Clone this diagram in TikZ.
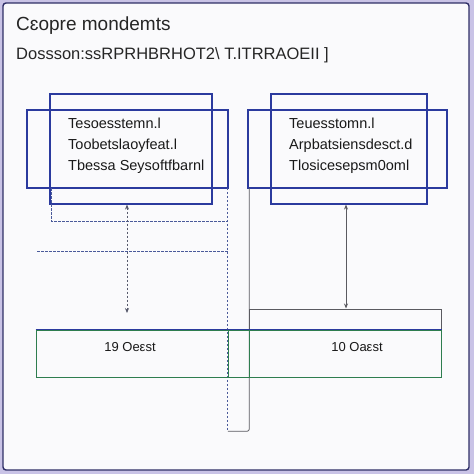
\documentclass[tikz,border=0pt]{standalone}
\usepackage{fontspec}
\setmainfont{Liberation Sans}
\usetikzlibrary{arrows.meta}
\definecolor{bluec}{HTML}{2B3A9E}
\definecolor{grayc}{HTML}{5A5A60}
\definecolor{greenc}{HTML}{2E7D4F}
\definecolor{dashc}{HTML}{4A5A9A}
\definecolor{framec}{HTML}{2E2E66}
\definecolor{bgc}{HTML}{C9C3E6}
\definecolor{paperc}{HTML}{FAFAFC}
\begin{document}
\begin{tikzpicture}[x=1pt,y=-1pt,
  bluebox/.style={draw=bluec, line width=1.2pt, inner sep=0pt},
  graybox/.style={draw=grayc, line width=0.8pt, inner sep=0pt},
  bandbox/.style={draw=greenc, line width=1pt, inner sep=0pt},
  bodytext/.style={font=\fontsize{14.5}{21}\selectfont, align=left, anchor=west, inner sep=0pt, text=black!90},
  bandtext/.style={font=\fontsize{13}{15}\selectfont, inner sep=0pt, text=black!90},
  dashline/.style={draw=dashc, line width=0.7pt, dash pattern=on 2.5pt off 1.5pt},
  grayline/.style={draw=grayc, line width=0.8pt},
  biarrow/.style={{Stealth[length=5pt,width=4pt]}-{Stealth[length=5pt,width=4pt]}}
]
\useasboundingbox (0,0) rectangle (474,474);
\fill[bgc] (0,0) rectangle (474,474);
\node[draw=framec, line width=1.4pt, fill=paperc, rounded corners=3pt, minimum width=466pt, minimum height=467pt, inner sep=0pt] (frame) at (236,236.5) {};

% titles
\node[font=\fontsize{19}{22}\selectfont, anchor=west, inner sep=0pt, text=black!85] (title) at (16,26) {Cɛopre mondemts};
\node[font=\fontsize{16.5}{20}\selectfont, anchor=west, inner sep=0pt, text=black!85] (subtitle) at (16,55) {Dossson:ssRPRHBRHOT2\textbackslash{} T.ITRRAOEII ]};

% left group
\node[bluebox, minimum width=162pt, minimum height=110pt] (lback) at (131,149) {};
\node[bluebox, minimum width=201pt, minimum height=78pt] (lfront) at (127.5,149) {};
\node[bodytext] (ltext) at (68,146) {Tesoesstemn.l\\Toobetslaoyfeat.l\\Tbessa Seysoftfbarnl};

% right group
\node[bluebox, minimum width=156pt, minimum height=110pt] (rback) at (349,149) {};
\node[bluebox, minimum width=199pt, minimum height=78pt] (rfront) at (347.5,149) {};
\node[bodytext] (rtext) at (289,146) {Teuesstomn.l\\Arpbatsiensdesct.d\\Tlosicesepsm0oml};

% thin bar
\node[minimum width=21pt, minimum height=243pt, inner sep=0pt] (bar) at (238.5,309.5) {};
\draw[grayline, rounded corners=2pt] (bar.north east) -- (bar.south east) -- (bar.south west);
\draw[dashline] (bar.north west) -- (bar.south west);

% dashed bracket under left group
\coordinate (dl1) at (51,188);
\coordinate (dl2) at (51,221);
\coordinate (dl3) at (228,221);
\draw[dashline] (dl1) -- (dl2) -- (dl3);
\coordinate (dh1) at (37,251);
\coordinate (dh2) at (228,251);
\draw[dashline] (dh1) -- (dh2);

% upper right gray box and band
\node[graybox, minimum width=192pt, minimum height=21pt] (rtop) at (345,319.5) {};
\node[bandbox, minimum width=405pt, minimum height=47pt] (band) at (238.5,353.5) {};
\draw[draw=bluec, line width=1pt] (band.north west) -- (band.north east);
\draw[draw=greenc, line width=1pt] (228,330) -- (228,377);
\draw[draw=greenc, line width=1pt] (249,330) -- (249,377);
\node[bandtext] (bl) at (130,347) {19 Oeεst};
\node[bandtext] (br) at (357,347) {10 Oaεst};

% arrows
\coordinate (la) at (127,313);
\draw[dashline, draw=grayc!80!dashc, biarrow] (lback.south -| la) -- (la);
\coordinate (ra) at (346,308.5);
\draw[grayline, biarrow] (rback.south -| ra) -- (ra);
\end{tikzpicture}
\end{document}
